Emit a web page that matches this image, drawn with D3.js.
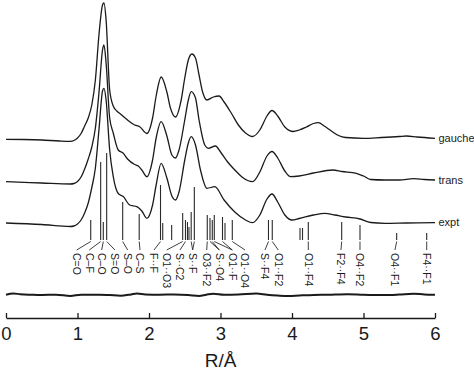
<!DOCTYPE html>
<html>
<head>
<meta charset="utf-8">
<script src="https://cdn.jsdelivr.net/npm/d3@7"></script>
<style>
  html, body { margin: 0; padding: 0; background: #fff; }
  svg { display: block; font-family: "Liberation Sans", Arial, Helvetica, sans-serif; }
</style>
</head>
<body>
<svg id="chart" width="474" height="369"></svg>
<script>
// ---------------- data (intensity in arbitrary units, R in Å) ----------------
const gaucheR = [0,0.25,0.5,0.75,0.9,0.95,1.0,1.05,1.1,1.15,1.2,1.25,1.3,1.35,1.37,1.4,1.45,1.5,1.55,1.6,1.7,1.8,1.87,1.97,2.05,2.1,2.17,2.25,2.3,2.37,2.45,2.5,2.55,2.6,2.65,2.7,2.75,2.81,2.9,2.98,3.05,3.15,3.25,3.35,3.45,3.55,3.65,3.72,3.8,3.9,4.02,4.1,4.2,4.3,4.37,4.45,4.55,4.65,4.75,5.0,5.25,5.5,5.6,5.75,6.0];
const gaucheI = [0.7,0.5,0,-1,-1.3,-0.5,2,6.5,14,22,35,60,105,135,137,120,50,34,29,26,20,15,13.3,6.5,22,44,63,48,32,23,40,62,80,86,82,65,48,40,43,44,38,27,15,7,3.5,10,24,29.5,24,13,8.5,10,13,16.5,17.3,14,9,4.5,2.5,1.7,2.5,3.5,4,3,1.7];

const transR = [0,0.5,0.9,0.95,1.0,1.05,1.1,1.15,1.2,1.25,1.3,1.35,1.37,1.4,1.45,1.5,1.57,1.64,1.7,1.8,1.85,1.9,1.97,2.05,2.1,2.17,2.25,2.32,2.37,2.42,2.5,2.55,2.59,2.65,2.7,2.78,2.83,2.93,3.0,3.1,3.2,3.3,3.45,3.55,3.65,3.72,3.8,3.9,3.98,4.1,4.3,4.57,4.7,4.9,5.0,5.1,5.3,5.5,5.7,5.85,6.0];
const transI = [1.3,0,-1,-0.5,1.5,6,14,24,36,55,90,133,138,120,65,50,33,29.7,24,18.5,17,13,6.3,23,45,61.3,47,28,25,33,63,83,91.3,85,63,38,34.7,37,31,21,13,6,1.3,11,27,31.5,25,12,6.3,7,10,13,11.5,9.7,7,3.5,3,3,4.3,3.5,3];

const exptR = [0,0.5,0.9,0.95,1.0,1.05,1.1,1.15,1.2,1.25,1.3,1.35,1.37,1.4,1.45,1.5,1.57,1.64,1.73,1.83,1.9,1.97,2.05,2.1,2.17,2.25,2.32,2.37,2.42,2.5,2.55,2.59,2.65,2.72,2.81,2.92,3.05,3.2,3.35,3.45,3.55,3.65,3.72,3.8,3.9,4.0,4.1,4.3,4.46,4.6,4.75,4.95,5.1,5.3,5.6,6.0];
const exptI = [0.5,-1,-3,-2.5,-0.5,3.5,10.5,20.5,36,55.5,93.5,132.5,135.2,123.5,73.5,46.8,30,27,18.5,16.8,12.5,5.2,18.5,38.5,60.2,45.5,27.5,23.5,31.5,63.5,80.5,86.8,78.5,53.5,35.2,36.8,23.5,11.5,3.5,0.8,8.5,24.5,29.5,21.5,8.5,3.5,5,8.5,10.2,8.5,6.5,4.5,1,0.2,0.5,0.8];

const residR = [0,0.1,0.2,0.35,0.5,0.7,0.9,1.05,1.3,1.45,1.6,1.75,1.83,1.95,2.15,2.35,2.55,2.7,2.8,2.9,3.05,3.25,3.5,3.65,3.8,3.95,4.1,4.3,4.5,4.77,5.0,5.3,5.5,5.7,5.85,6.0];
const residI = [0,1.2,0.5,0,-0.3,0,-1.2,0,0,-0.4,-1,0.3,1.2,0.3,0,0.2,-0.3,-1.2,0,1,0,0.2,1.2,0,-0.8,-1.3,-0.8,-0.2,0,0.5,0,-0.3,0.2,1,0.3,0];

// calculated distances (sticks)
const stickR = [1.185,1.324,1.361,1.408,1.632,1.863,2.161,2.192,2.317,2.471,2.51,2.538,2.559,2.59,2.634,2.815,2.853,2.885,2.913,3.028,3.063,3.165,3.671,3.724,4.112,4.147,4.228,4.695,4.951,5.464,5.884];
const stickH = [20,78,18,87,38,26,55,17,15,27,20,18,13,28,53,25,22,20,25,23,17,20,20,20,12,12,18,18,15,7,7];

// assignment labels
const labelText = ["C=O","C–F","C–O","S=O","S–O","C–S","F··F","O1··O3","S··C2","S··F","O3··F2","S··O4","O1··F","O1··O4","S··F4","O1··F2","O1··F4","F2··F4","O4··F2","O4··F1","F4··F1"];
const labelR    = [0.988,1.165,1.338,1.524,1.702,1.874,2.07,2.248,2.434,2.611,2.807,2.983,3.165,3.343,3.622,3.808,4.228,4.685,4.951,5.44,5.884];
// connector lines: stick distance -> label index
const linkFromR = [1.185,1.324,1.361,1.408,1.632,1.863,2.161,2.471,2.51,2.59,2.634,2.815,2.853,2.885,2.913,3.028,3.165,3.671,3.724,4.228,4.695,4.951,5.464,5.884];
const linkToLab = [0,1,2,3,4,5,6,7,8,9,9,10,11,11,12,12,13,14,15,16,17,18,19,20];

const curveNames = ["gauche","trans","expt"];
const xTicks = [0,1,2,3,4,5,6];

// ---------------- layout ----------------
const svg = d3.select("#chart");
const x = d3.scaleLinear().domain([0, 6]).range([6, 435]);
const y = d3.scaleLinear().domain([0, 137]).range([140, 3]);

const offsets = { gauche: 0, trans: -43, expt: -83.5 };
const stickBase = -100;
const residBase = -154.7;
const axisLevel = -178;

const ink = "#1a1a1a";

const line = (off) => d3.line()
  .x(d => x(d[0]))
  .y(d => y(d[1] + off))
  .curve(d3.curveMonotoneX);

const series = [
  { name: "gauche", R: gaucheR, I: gaucheI },
  { name: "trans",  R: transR,  I: transI },
  { name: "expt",   R: exptR,   I: exptI }
];

series.forEach(s => {
  const pts = s.R.map((r, i) => [r, s.I[i]]);
  svg.append("path")
    .attr("d", line(offsets[s.name])(pts))
    .attr("fill", "none")
    .attr("stroke", ink)
    .attr("stroke-width", 1.3);
  const last = pts[pts.length - 1];
  svg.append("text")
    .attr("x", x(last[0]) + 3.5)
    .attr("y", y(last[1] + offsets[s.name]))
    .attr("dy", "0.33em")
    .attr("font-size", 11)
    .attr("fill", ink)
    .text(s.name);
});

// sticks
svg.append("g").selectAll("line")
  .data(stickR.map((r, i) => [r, stickH[i]]))
  .join("line")
  .attr("x1", d => x(d[0])).attr("x2", d => x(d[0]))
  .attr("y1", y(stickBase)).attr("y2", d => y(stickBase + d[1]))
  .attr("stroke", "#2a2a2a").attr("stroke-width", 1.1);

// connectors
svg.append("g").selectAll("line")
  .data(linkFromR.map((r, i) => [r, labelR[linkToLab[i]]]))
  .join("line")
  .attr("x1", d => x(d[0])).attr("y1", y(stickBase) + 1.5)
  .attr("x2", d => x(d[1])).attr("y2", y(stickBase) + 10)
  .attr("stroke", "#2a2a2a").attr("stroke-width", 0.9);

// labels (rotated, reading downward)
svg.append("g").selectAll("text")
  .data(labelText.map((t, i) => [t, labelR[i]]))
  .join("text")
  .attr("transform", d => `translate(${x(d[1])},${y(stickBase) + 13}) rotate(90)`)
  .attr("dy", "0.35em")
  .attr("font-size", 10.5)
  .attr("fill", ink)
  .text(d => d[0]);

// residual
svg.append("path")
  .attr("d", line(residBase)(residR.map((r, i) => [r, residI[i]])))
  .attr("fill", "none")
  .attr("stroke", ink)
  .attr("stroke-width", 2);

// axis
const axis = d3.axisBottom(x).tickValues(xTicks).tickFormat(d3.format("d"))
  .tickSize(-5).tickSizeOuter(0).tickPadding(9);
const ax = svg.append("g")
  .attr("transform", `translate(0,${y(axisLevel)})`)
  .call(axis);
ax.select(".domain").attr("stroke", ink).attr("stroke-width", 1.3);
ax.selectAll(".tick line").attr("stroke", ink).attr("stroke-width", 1.3);
ax.selectAll(".tick text").attr("font-size", 18.5).attr("fill", ink)
  .attr("font-family", "'Liberation Sans', Arial, sans-serif");

svg.append("text")
  .attr("x", (x(0) + x(6)) / 2)
  .attr("y", 366.5)
  .attr("text-anchor", "middle")
  .attr("font-size", 19)
  .attr("fill", ink)
  .text("R/Å");
</script>
</body>
</html>
